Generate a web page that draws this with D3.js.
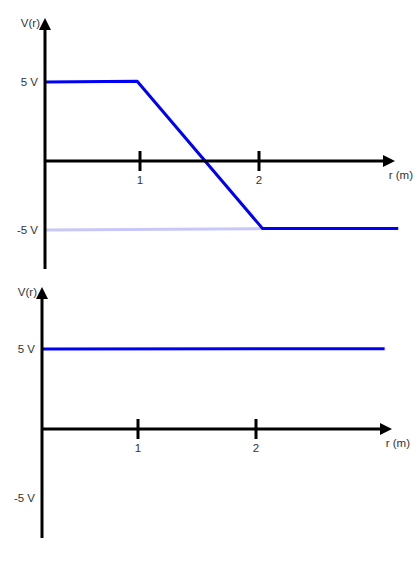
<!DOCTYPE html>
<html><head><meta charset="utf-8">
<script src="https://cdn.jsdelivr.net/npm/d3@7"></script>
<style>
html,body{margin:0;padding:0;background:#fff;}
svg{display:block;}
text{font-family:"Liberation Sans",Arial,sans-serif;font-size:11.5px;fill:#333;}
</style></head>
<body><svg id="c" width="419" height="568"></svg>
<script>
// ---- data ----
const rTicks = [1, 2];
const rTickLabels = ["1", "2"];
const vTicks = [5, -5];
const vTickLabels = ["5 V", "-5 V"];
const xLabel = "r (m)";
const yLabel = "V(r)";
// top panel: potential profile
const topR = [0, 0.97, 2.03, 3.17];
const topV = [5, 5.05, -4.9, -4.9];
// faint guide line at -5 V
const guideR = [0, 2.03];
const guideV = [-5, -4.9];
// bottom panel: constant potential
const botR = [0, 3.09];
const botV = [5, 5.02];

// ---- layout ----
const panels = [
  {xr:[45,140,259], yr:[230,161,82], yTop:18, yBot:269, xEnd:395,
   series:[{r:guideR,v:guideV,color:"#c8c8f8"},{r:topR,v:topV,color:"#0000f5"}]},
  {xr:[42,138,256], yr:[498,429,349], yTop:287, yBot:538, xEnd:392,
   series:[{r:botR,v:botV,color:"#0000f5"}]}
];

const svg = d3.select("#c");

panels.forEach(p => {
  const x = d3.scaleLinear().domain([0,1,2]).range(p.xr);
  const y = d3.scaleLinear().domain([-5,0,5]).range(p.yr);
  const g = svg.append("g");
  const x0 = x(0), y0 = y(0);

  // series
  p.series.forEach(s => {
    const pts = s.r.map((r,i)=>[r, s.v[i]]);
    g.append("path").datum(pts)
      .attr("d", d3.line().x(d=>x(d[0])).y(d=>y(d[1])))
      .attr("fill","none").attr("stroke",s.color).attr("stroke-width",3)
      .attr("stroke-linejoin","round");
  });

  // y axis
  g.append("line").attr("x1",x0).attr("x2",x0).attr("y1",p.yBot).attr("y2",p.yTop+10)
    .attr("stroke","#000").attr("stroke-width",3);
  g.append("path").attr("d",`M${x0-6},${p.yTop+12}L${x0},${p.yTop}L${x0+6},${p.yTop+12}Z`).attr("fill","#000");
  // x axis
  g.append("line").attr("x1",x0).attr("x2",p.xEnd-10).attr("y1",y0).attr("y2",y0)
    .attr("stroke","#000").attr("stroke-width",3);
  g.append("path").attr("d",`M${p.xEnd-12},${y0-6}L${p.xEnd},${y0}L${p.xEnd-12},${y0+6}Z`).attr("fill","#000");

  // x ticks
  rTicks.forEach((t,i)=>{
    g.append("line").attr("x1",x(t)).attr("x2",x(t)).attr("y1",y0-10).attr("y2",y0+10)
      .attr("stroke","#000").attr("stroke-width",3);
    g.append("text").attr("x",x(t)).attr("y",y0+23).attr("text-anchor","middle").text(rTickLabels[i]);
  });
  // y tick labels
  vTicks.forEach((t,i)=>{
    g.append("text").attr("x",x0-7).attr("y",y(t)+4).attr("text-anchor","end").text(vTickLabels[i]);
  });
  // axis labels
  g.append("text").attr("x",x0-5).attr("y",p.yTop+9).attr("text-anchor","end").text(yLabel);
  g.append("text").attr("x",p.xEnd+18).attr("y",y0+18).attr("text-anchor","end").text(xLabel);
});
</script></body></html>
